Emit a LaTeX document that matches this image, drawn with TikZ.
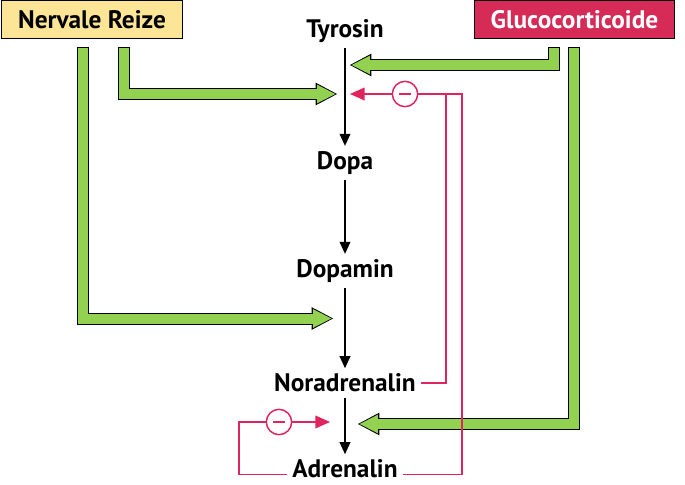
\documentclass[tikz,border=0pt]{standalone}
\usepackage{fontspec}
\setmainfont{PT Sans}
\usetikzlibrary{arrows.meta}

\definecolor{reizgelb}{RGB}{252,229,150}
\definecolor{glucorot}{RGB}{214,42,87}
\definecolor{hemmrot}{RGB}{224,36,94}
\definecolor{pfeilgruen}{RGB}{146,210,80}

\tikzset{
	stoff/.style={font=\bfseries\fontsize{19}{21}\selectfont, inner sep=4pt},
	reizbox/.style={draw=black, line width=0.8pt, minimum height=28pt, font=\bfseries\fontsize{19}{21}\selectfont},
	schritt/.style={line width=1.1pt, -{Triangle[length=9pt, width=8pt]}},
	hemmung/.style={draw=hemmrot, line width=1.2pt},
	hemmpfeil/.style={hemmung, -{Triangle[length=11pt, width=9.5pt]}},
	hemmkreis/.style={circle, draw=hemmrot, line width=1.1pt, fill=white, minimum size=19pt, inner sep=0pt,
		path picture={\draw[hemmrot, line width=1.1pt] ([xshift=-4.5pt]path picture bounding box.center) -- ([xshift=4.5pt]path picture bounding box.center);}},
	gruenrand/.style={draw=black, line width=9pt, -{Triangle[length=16pt, width=17pt, line width=0pt]}},
	gruenkern/.style={draw=pfeilgruen, line width=7.5pt, shorten <=0.75pt, shorten >=1.3pt, -{Triangle[length=13.6pt, width=14pt, line width=0pt]}}
}

\begin{document}
\begin{tikzpicture}[x=0.75pt, y=-0.75pt]
	\useasboundingbox (0,0) rectangle (685,485);

	% Reize
	\node[reizbox, fill=reizgelb, minimum width=136pt] (nerv) at (92,19.5) {Nervale Reize};
	\node[reizbox, fill=glucorot, text=white, minimum width=150pt] (gluco) at (574.5,19.5) {Glucocorticoide};

	% Syntheseweg
	\foreach \n/\y/\t in {tyr/31/Tyrosin, dopa/163/Dopa, dopamin/271/Dopamin, nor/383/Noradrenalin}
	{
		\node[stoff] (\n) at (345,\y) {\t};
	}
	\node[stoff, inner ysep=1pt] (adr) at (345,469) {Adrenalin};

	\foreach \i/\j in {tyr/dopa, dopa/dopamin, dopamin/nor}
	{
		\draw[schritt] (\i) -- (\j);
	}
	\draw[schritt, shorten >=3pt] (nor) -- (adr);

	% Eintrittspunkte der Pfeile
	\coordinate (nIn1) at (337,94);
	\coordinate (nIn2) at (333,318.5);
	\coordinate (gIn1) at (350,65);
	\coordinate (gIn2) at (358,424);
	\coordinate (n1) at (124,0);
	\coordinate (n2) at (83,0);
	\coordinate (g1) at (554,0);
	\coordinate (g2) at (573.5,0);

	% Aktivierung
	\foreach \b/\s/\z in {nerv/n1/nIn1, nerv/n2/nIn2, gluco/g1/gIn1, gluco/g2/gIn2}
	{
		\draw[gruenrand] (\b.south -| \s) ++(0,8) |- (\z);
		\draw[gruenkern] (\b.south -| \s) ++(0,8) |- (\z);
	}

	% Hemmung
	\node[hemmkreis] (h1) at (405,94) {};
	\node[hemmkreis] (h2) at (279,422) {};
	\coordinate (knick1) at (446,94);
	\coordinate (knick2) at (462,94);
	\coordinate (knick3) at (239,422);
	\coordinate (tHemm) at (350,94);
	\coordinate (aHemm) at (330,422);

	\draw[hemmung] (nor.east) -| (knick1);
	\draw[hemmung] ([yshift=-4pt]adr.east) -| (knick2) -- (h1);
	\draw[hemmpfeil] (h1) -- (tHemm);
	\draw[hemmung] ([yshift=-4pt]adr.west) -| (knick3) -- (h2);
	\draw[hemmpfeil] (h2) -- (aHemm);

\end{tikzpicture}
\end{document}
